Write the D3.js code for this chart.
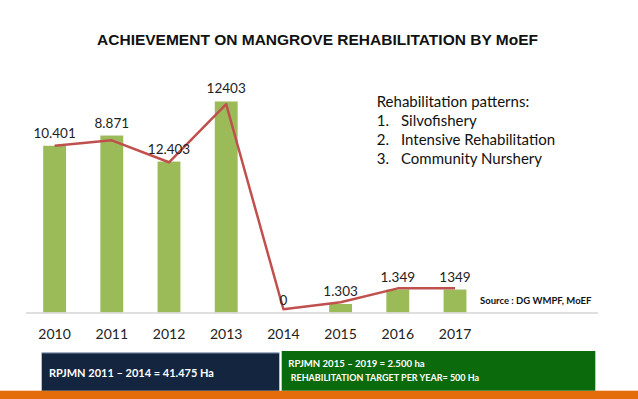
<!DOCTYPE html>
<html>
<head>
<meta charset="utf-8">
<script src="https://cdn.jsdelivr.net/npm/d3@7"></script>
<style>
  body { margin: 0; background: #fff; }
  svg { display: block; }
</style>
</head>
<body>
<div class="chart"></div>
<script>
const years = ["2010", "2011", "2012", "2013", "2014", "2015", "2016", "2017"];
const barValues = [9800, 10401, 8871, 12403, 0, 500, 1349, 1349];
const lineValues = [9800, 10120, 8830, 12240, 190, 600, 1420, 1420];
const labelTexts = ["10.401", "8.871", "12.403", "12403", "0", "1.303", "1.349", "1349"];
const patterns = ["Silvofishery", "Intensive Rehabilitation", "Community Nurshery"];

const width = 638, height = 399;

const svg = d3.select('.chart')
    .append('svg')
    .attr('width', width)
    .attr('height', height);

// scales
const xScale = d3.scaleBand()
    .domain(years)
    .range([26, 483.6])
    .paddingInner(0.6)
    .paddingOuter(0.3);

const yScale = d3.scaleLinear()
    .domain([0, 14000])
    .range([312.5, 74.3]);

// title
svg.append('text')
    .attr('x', 317.5)
    .attr('y', 44.5)
    .attr('text-anchor', 'middle')
    .style('font-family', '"Liberation Sans", Arial, sans-serif')
    .style('font-weight', 'bold')
    .style('font-size', '15.5px')
    .attr('fill', '#111')
    .text('ACHIEVEMENT ON MANGROVE REHABILITATION BY MoEF');

// bars
svg.selectAll('rect.bar')
    .data(barValues)
    .enter()
    .append('rect')
    .attr('class', 'bar')
    .attr('x', (d, i) => xScale(years[i]))
    .attr('y', d => yScale(d))
    .attr('width', xScale.bandwidth())
    .attr('height', d => yScale(0) - yScale(d))
    .attr('fill', '#9bbb59');

// baseline
svg.append('line')
    .attr('x1', 26)
    .attr('x2', 598)
    .attr('y1', yScale(0) + 0.5)
    .attr('y2', yScale(0) + 0.5)
    .attr('stroke', '#d4d4d4')
    .attr('stroke-width', 1.5);

// trend line
const line = d3.line()
    .x((d, i) => xScale(years[i]) + xScale.bandwidth() / 2)
    .y(d => yScale(d));

svg.append('path')
    .datum(lineValues)
    .attr('d', line)
    .attr('fill', 'none')
    .attr('stroke', '#c0504d')
    .attr('stroke-width', 2.5)
    .attr('stroke-linejoin', 'round');

// data labels
svg.selectAll('text.label')
    .data(labelTexts)
    .enter()
    .append('text')
    .attr('class', 'label')
    .attr('x', (d, i) => xScale(years[i]) + xScale.bandwidth() / 2)
    .attr('y', (d, i) => yScale(barValues[i]) - 8)
    .attr('text-anchor', 'middle')
    .style('font-family', 'Lato, sans-serif')
    .style('font-size', '13.5px')
    .attr('fill', '#222')
    .text(d => d);

// x axis labels
const xAxis = d3.axisBottom(xScale).tickSize(0).tickPadding(16.5);
const axisG = svg.append('g')
    .attr('transform', `translate(0, ${yScale(0)})`)
    .call(xAxis);
axisG.select('.domain').remove();
axisG.selectAll('text')
    .style('font-family', 'Lato, sans-serif')
    .style('font-size', '14px')
    .attr('fill', '#222');

// rehabilitation patterns
const legend = svg.append('g')
    .style('font-family', 'Lato, sans-serif')
    .style('font-size', '15px')
    .attr('fill', '#111');

legend.append('text')
    .attr('x', 376.7)
    .attr('y', 107.3)
    .text('Rehabilitation patterns:');

patterns.forEach((p, i) => {
    legend.append('text')
        .attr('x', 376.7)
        .attr('y', 126 + i * 19)
        .text((i + 1) + '.');
    legend.append('text')
        .attr('x', 401)
        .attr('y', 126 + i * 19)
        .text(p);
});

// source
svg.append('text')
    .attr('x', 480)
    .attr('y', 304)
    .style('font-family', 'Lato, sans-serif')
    .style('font-weight', 'bold')
    .style('font-size', '9.5px')
    .attr('fill', '#111')
    .text('Source : DG WMPF, MoEF');

// bottom boxes
svg.append('rect')
    .attr('x', 0).attr('y', 390.7)
    .attr('width', width).attr('height', height - 390.7)
    .attr('fill', '#e46c0a');

svg.append('rect')
    .attr('x', 41.7).attr('y', 352.7)
    .attr('width', 237.6).attr('height', 38)
    .attr('fill', '#13253f');
svg.append('line')
    .attr('x1', 41.7).attr('x2', 279.3)
    .attr('y1', 353).attr('y2', 353)
    .attr('stroke', '#8aa0c0').attr('stroke-width', 0.8);

svg.append('rect')
    .attr('x', 281.7).attr('y', 351)
    .attr('width', 313.6).attr('height', 39.7)
    .attr('fill', '#0b6a0c');

const boxText = svg.append('g')
    .style('font-family', 'Lato, sans-serif')
    .style('font-weight', 'bold')
    .attr('fill', '#fff');

boxText.append('text')
    .attr('x', 49).attr('y', 376.5)
    .style('font-size', '11px')
    .text('RPJMN 2011 \u2013 2014 = 41.475 Ha');

boxText.append('text')
    .attr('x', 288.3).attr('y', 367.3)
    .style('font-size', '9.6px')
    .text('RPJMN 2015 \u2013 2019 = 2.500 ha');

boxText.append('text')
    .attr('x', 290.7).attr('y', 380.7)
    .style('font-size', '9px')
    .text('REHABILITATION TARGET PER YEAR= 500 Ha');
</script>
</body>
</html>
